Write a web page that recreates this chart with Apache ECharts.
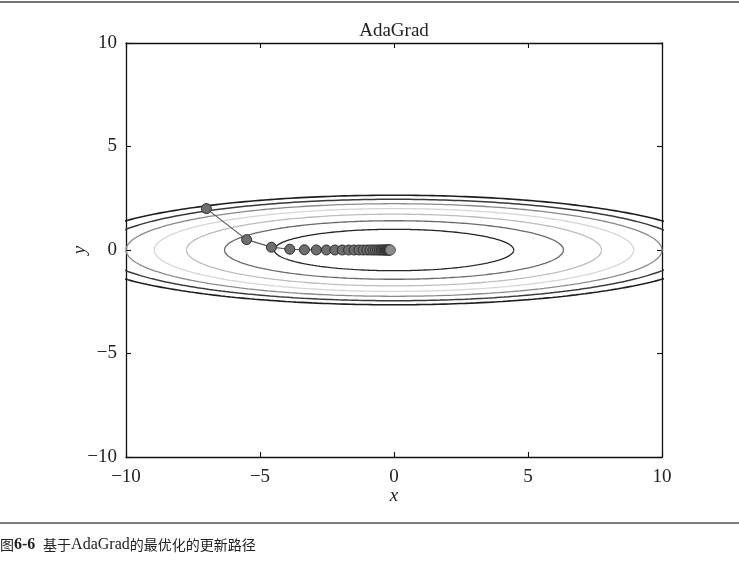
<!DOCTYPE html>
<html>
<head>
<meta charset="utf-8">
<script src="https://cdn.jsdelivr.net/npm/echarts@6/dist/echarts.min.js"></script>
<style>html,body{margin:0;padding:0;background:#fff;}#c{width:739px;height:567px;}</style>
</head>
<body>
<div id="c"></div>
<script>
// ---- data ----
const chartTitle = 'AdaGrad';
const caption = '基于AdaGrad的最优化的更新路径';
const captionLabel = '6-6';
const axisTicks = [-10, -5, 0, 5, 10];
// contour levels of f(x, y) = x^2/20 + y^2
const contourLevels = [1, 2, 3, 4, 5, 6, 7];
// optimisation path (30 steps)
const pathX = [-7.0, -5.5, -4.573, -3.888, -3.345, -2.899, -2.524, -2.206, -1.932, -1.695,
  -1.489, -1.310, -1.153, -1.015, -0.895, -0.788, -0.695, -0.613, -0.540, -0.477,
  -0.420, -0.371, -0.327, -0.289, -0.255, -0.225, -0.198, -0.175, -0.154, -0.136];
const pathY = [2.0, 0.5, 0.136, 0.037, 0.010, 0.003, 0.001, 0.0002, 0, 0,
  0, 0, 0, 0, 0, 0, 0, 0, 0, 0,
  0, 0, 0, 0, 0, 0, 0, 0, 0, 0];

// ---- styles ----
const levelColors = ['#262626', '#6a6a6a', '#bdbdbd', '#d6d6d6', '#8a8a8a', '#3a3a3a', '#1e1e1e'];
const levelWidths = [1.3, 1.3, 1.3, 1.3, 1.3, 1.5, 1.6];
const serif = '"Liberation Serif", "DejaVu Serif", serif';
const fmt = v => String(v).replace('-', '\u2212');

function ellipse(L) {
  const a = Math.sqrt(20 * L), b = Math.sqrt(L);
  const pts = [];
  const n = 360;
  for (let i = 0; i <= n; i++) {
    const t = 2 * Math.PI * i / n;
    pts.push([a * Math.cos(t), b * Math.sin(t)]);
  }
  return pts;
}

const series = contourLevels.map((L, i) => ({
  type: 'line',
  data: ellipse(L),
  showSymbol: false,
  symbol: 'none',
  clip: true,
  silent: true,
  lineStyle: { color: levelColors[i], width: levelWidths[i] },
  z: 2,
  animation: false
}));

series.push({
  type: 'line',
  data: pathX.map((x, i) => ({
    value: [x, pathY[i]],
    itemStyle: i === pathX.length - 1 ? { color: '#8c8c8c', borderColor: '#555' } : undefined
  })),
  symbol: 'circle',
  symbolSize: 10,
  showSymbol: true,
  showAllSymbol: true,
  lineStyle: { color: '#5a5a5a', width: 1.2 },
  itemStyle: { color: '#6e6e6e', borderColor: '#2e2e2e', borderWidth: 1 },
  z: 5,
  animation: false
});

const baseAxis = {
  type: 'value', min: -10, max: 10, interval: 5,
  axisLine: { show: true, onZero: false, lineStyle: { color: '#111', width: 1.3 } },
  axisTick: { show: true, inside: true, length: 5, lineStyle: { color: '#111', width: 1.1 } },
  splitLine: { show: false },
  axisLabel: { show: false }
};

const chart = echarts.init(document.getElementById('c'), null, { renderer: 'canvas' });
chart.setOption({
  animation: false,
  backgroundColor: '#fff',
  grid: { left: 126, top: 43, width: 536, height: 414 },
  xAxis: [
    Object.assign({}, baseAxis, {
      position: 'bottom',
      axisLabel: { show: true, margin: 11, formatter: fmt, fontFamily: serif, fontSize: 19, color: '#222' },
      name: 'x', nameLocation: 'middle', nameGap: 29, nameMoveOverlap: false,
      nameTextStyle: { fontFamily: serif, fontStyle: 'italic', fontSize: 19, color: '#222' }
    }),
    Object.assign({}, baseAxis, { position: 'top' })
  ],
  yAxis: [
    Object.assign({}, baseAxis, {
      position: 'left',
      axisLabel: { show: true, margin: 9, formatter: fmt, fontFamily: serif, fontSize: 19, color: '#222' },
      name: 'y', nameLocation: 'middle', nameGap: 37, nameRotate: 90, nameMoveOverlap: false,
      nameTextStyle: { fontFamily: serif, fontStyle: 'italic', fontSize: 19, color: '#222' }
    }),
    Object.assign({}, baseAxis, { position: 'right' })
  ],
  series: series,
  graphic: [
    { type: 'line', shape: { x1: 0, y1: 2, x2: 739, y2: 2 }, style: { stroke: '#444', lineWidth: 1.5 } },
    { type: 'line', shape: { x1: 0, y1: 523, x2: 739, y2: 523 }, style: { stroke: '#555', lineWidth: 1.5 } },
    { type: 'text', x: 394, y: 31, style: { text: chartTitle, textAlign: 'center', textVerticalAlign: 'middle', font: '19px ' + serif, fill: '#222' } },
    { type: 'text', x: 0, y: 545, style: {
      text: '{a|图}{b|' + captionLabel + '}{g|  }{a|基于}{s|AdaGrad}{a|的最优化的更新路径}',
      textVerticalAlign: 'middle',
      rich: {
        a: { fontFamily: '"Noto Sans CJK SC", sans-serif', fontSize: 14, fill: '#222' },
        b: { fontFamily: serif, fontWeight: 'bold', fontSize: 16, fill: '#222' },
        g: { fontSize: 14 },
        s: { fontFamily: serif, fontSize: 16, fill: '#222' }
      }
    } }
  ]
});
</script>
</body>
</html>
